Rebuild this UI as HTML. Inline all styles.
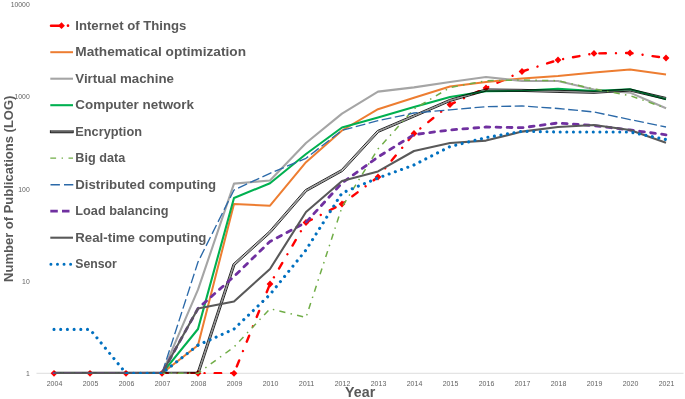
<!DOCTYPE html>
<html><head><meta charset="utf-8"><title>Chart</title>
<style>
html,body{margin:0;padding:0;background:#fff}
svg{display:block}
text{font-family:"Liberation Sans",sans-serif}
.lg{font-weight:bold;font-size:13.5px;fill:#595959}
.tk{font-size:7.8px;fill:#646464}
.ln{fill:none;stroke-linejoin:round}
</style></head><body>
<svg width="685" height="399" viewBox="0 0 685 399">
<rect width="685" height="399" fill="#fff"/>
<defs><clipPath id="cp"><rect x="0" y="0" width="685" height="374"/></clipPath></defs>
<line x1="36.5" y1="373.3" x2="683.5" y2="373.3" stroke="#d9d9d9" stroke-width="0.9"/>

<polyline class="ln" clip-path="url(#cp)" points="54.0,373.3 90.0,373.3 126.0,373.3 162.0,373.3 198.0,373.3 234.0,373.3 270.0,284.0 306.0,222.5 342.0,204.0 378.0,177.0 414.0,133.5 450.0,104.6 486.0,88.0 522.0,71.5 558.0,60.0 594.0,53.4 630.0,53.0 666.0,58.0" stroke="#ff0000" stroke-width="2.4" stroke-linecap="round" stroke-dasharray="6.5 10.1 0.01 10.09" stroke-dashoffset="26.25"/>
<path d="M50.6 373.3L54.0 369.9L57.4 373.3L54.0 376.7Z" fill="#ff0000"/>
<path d="M86.6 373.3L90.0 369.9L93.4 373.3L90.0 376.7Z" fill="#ff0000"/>
<path d="M122.6 373.3L126.0 369.9L129.4 373.3L126.0 376.7Z" fill="#ff0000"/>
<path d="M158.6 373.3L162.0 369.9L165.4 373.3L162.0 376.7Z" fill="#ff0000"/>
<path d="M194.6 373.3L198.0 369.9L201.4 373.3L198.0 376.7Z" fill="#ff0000"/>
<path d="M230.6 373.3L234.0 369.9L237.4 373.3L234.0 376.7Z" fill="#ff0000"/>
<path d="M266.6 284.0L270.0 280.6L273.4 284.0L270.0 287.4Z" fill="#ff0000"/>
<path d="M302.6 222.5L306.0 219.1L309.4 222.5L306.0 225.9Z" fill="#ff0000"/>
<path d="M338.6 204.0L342.0 200.6L345.4 204.0L342.0 207.4Z" fill="#ff0000"/>
<path d="M374.6 177.0L378.0 173.6L381.4 177.0L378.0 180.4Z" fill="#ff0000"/>
<path d="M410.6 133.5L414.0 130.1L417.4 133.5L414.0 136.9Z" fill="#ff0000"/>
<path d="M446.6 104.6L450.0 101.2L453.4 104.6L450.0 108.0Z" fill="#ff0000"/>
<path d="M482.6 88.0L486.0 84.6L489.4 88.0L486.0 91.4Z" fill="#ff0000"/>
<path d="M518.6 71.5L522.0 68.1L525.4 71.5L522.0 74.9Z" fill="#ff0000"/>
<path d="M554.6 60.0L558.0 56.6L561.4 60.0L558.0 63.4Z" fill="#ff0000"/>
<path d="M590.6 53.4L594.0 50.0L597.4 53.4L594.0 56.8Z" fill="#ff0000"/>
<path d="M626.6 53.0L630.0 49.6L633.4 53.0L630.0 56.4Z" fill="#ff0000"/>
<path d="M662.6 58.0L666.0 54.6L669.4 58.0L666.0 61.4Z" fill="#ff0000"/>
<polyline class="ln" clip-path="url(#cp)" points="54.0,373.3 90.0,373.3 126.0,373.3 162.0,373.3 198.0,345.2 234.0,204.0 270.0,205.7 306.0,162.2 342.0,130.5 378.0,109.2 414.0,97.8 450.0,86.5 486.0,82.0 522.0,78.5 558.0,76.0 594.0,72.4 630.0,69.4 666.0,74.5" stroke="#ed7d31" stroke-width="2.0"/>
<polyline class="ln" clip-path="url(#cp)" points="54.0,373.3 90.0,373.3 126.0,373.3 162.0,373.3 198.0,289.7 234.0,183.6 270.0,180.5 306.0,143.0 342.0,113.6 378.0,91.6 414.0,87.4 450.0,82.0 486.0,77.0 522.0,81.0 558.0,81.0 594.0,89.6 630.0,92.6 666.0,108.2" stroke="#a5a5a5" stroke-width="2.1"/>
<polyline class="ln" clip-path="url(#cp)" points="54.0,373.3 90.0,373.3 126.0,373.3 162.0,373.3 198.0,329.0 234.0,198.0 270.0,183.2 306.0,154.0 342.0,127.5 378.0,117.6 414.0,106.9 450.0,97.0 486.0,91.2 522.0,90.8 558.0,88.9 594.0,91.0 630.0,89.3 666.0,99.3" stroke="#00b050" stroke-width="2.1"/>
<polyline class="ln" clip-path="url(#cp)" points="54.00,372.25 90.00,372.25 126.00,372.25 162.00,372.25 197.24,372.25 233.09,263.91 269.25,231.26 305.33,189.67 341.34,169.66 377.38,130.52 413.58,115.04 449.64,99.41 485.86,88.95 522.02,89.35 558.03,90.35 593.98,91.25 630.09,88.94 666.24,97.48" stroke="#000" stroke-width="0.85" stroke-linejoin="miter"/>
<polyline class="ln" clip-path="url(#cp)" points="54.00,373.30 90.00,373.30 126.00,373.30 162.00,373.30 198.00,373.30 234.00,264.50 270.00,232.00 306.00,190.50 342.00,170.50 378.00,131.40 414.00,116.00 450.00,100.40 486.00,90.00 522.00,90.40 558.00,91.40 594.00,92.30 630.00,90.00 666.00,98.50" stroke="#000" stroke-width="0.45" stroke-linejoin="miter"/>
<polyline class="ln" clip-path="url(#cp)" points="54.00,374.35 90.00,374.35 126.00,374.35 162.00,374.35 198.76,374.35 234.91,265.09 270.75,232.74 306.67,191.33 342.66,171.34 378.62,132.28 414.42,116.96 450.36,101.39 486.14,91.05 521.98,91.45 557.97,92.45 594.02,93.35 629.91,91.06 665.76,99.52" stroke="#000" stroke-width="0.85" stroke-linejoin="miter"/>
<polyline class="ln" clip-path="url(#cp)" points="54.0,373.3 90.0,373.3 126.0,373.3 162.0,373.3 198.0,373.3 234.0,347.0 270.0,308.7 306.0,317.5 342.0,207.0 378.0,149.0 414.0,109.0 450.0,87.5 486.0,80.7 522.0,80.0 558.0,80.7 594.0,89.0 630.0,95.6 666.0,108.2" stroke="#70ad47" stroke-width="1.5" stroke-dasharray="6.2 5.25 1.5 5.25" stroke-dashoffset="4.0"/>
<polyline class="ln" clip-path="url(#cp)" points="54.0,373.3 90.0,373.3 126.0,373.3 162.0,373.3 198.0,262.0 234.0,190.0 270.0,173.3 306.0,158.3 342.0,130.3 378.0,120.7 414.0,113.0 450.0,109.8 486.0,106.7 522.0,106.0 558.0,108.5 594.0,112.0 630.0,119.6 666.0,127.0" stroke="#2b69a8" stroke-width="1.35" stroke-dasharray="9.9 3.5" stroke-dashoffset="11.6"/>
<polyline class="ln" clip-path="url(#cp)" points="54.0,373.3 90.0,373.3 126.0,373.3 162.0,373.3 198.0,308.5 234.0,276.5 270.0,241.5 306.0,222.3 342.0,183.0 378.0,157.0 414.0,134.6 450.0,130.0 486.0,127.0 522.0,127.7 558.0,123.0 594.0,125.6 630.0,130.0 666.0,134.8" stroke="#7030a0" stroke-width="2.8" stroke-linecap="round" stroke-dasharray="4.8 6.3"/>
<polyline class="ln" clip-path="url(#cp)" points="54.0,373.3 90.0,373.3 126.0,373.3 162.0,373.3 198.0,308.5 234.0,301.5 270.0,269.0 306.0,212.0 342.0,181.0 378.0,171.4 414.0,151.0 450.0,143.0 486.0,140.6 522.0,131.6 558.0,127.0 594.0,125.0 630.0,130.0 666.0,142.7" stroke="#595959" stroke-width="2.1"/>
<polyline class="ln" clip-path="url(#cp)" points="54.0,329.4 90.0,329.4 126.0,373.3 162.0,373.3 198.0,345.2" stroke="#0070c0" stroke-width="3.1" stroke-linecap="round" stroke-dasharray="0.01 6.69" stroke-dashoffset="0"/>
<polyline class="ln" clip-path="url(#cp)" points="198.0,345.2 234.0,329.0 270.0,294.5 306.0,250.0 342.0,193.0 378.0,178.0 414.0,165.0 450.0,146.6 486.0,137.6 522.0,131.3 558.0,132.0 594.0,132.0 630.0,132.0 666.0,139.5" stroke="#0070c0" stroke-width="3.1" stroke-linecap="round" stroke-dasharray="0.01 6.61" stroke-dashoffset="0"/>
<text class="lg" x="75.3" y="29.9" textLength="111.1" lengthAdjust="spacingAndGlyphs">Internet of Things</text>
<text class="lg" x="75.3" y="56.4" textLength="170.7" lengthAdjust="spacingAndGlyphs">Mathematical optimization</text>
<text class="lg" x="75.3" y="82.9" textLength="98.6" lengthAdjust="spacingAndGlyphs">Virtual machine</text>
<text class="lg" x="75.3" y="109.4" textLength="118.7" lengthAdjust="spacingAndGlyphs">Computer network</text>
<text class="lg" x="75.3" y="135.9" textLength="66.7" lengthAdjust="spacingAndGlyphs">Encryption</text>
<text class="lg" x="75.3" y="162.4" textLength="49.9" lengthAdjust="spacingAndGlyphs">Big data</text>
<text class="lg" x="75.3" y="188.9" textLength="140.9" lengthAdjust="spacingAndGlyphs">Distributed computing</text>
<text class="lg" x="75.3" y="215.4" textLength="93.3" lengthAdjust="spacingAndGlyphs">Load balancing</text>
<text class="lg" x="75.3" y="241.9" textLength="131.1" lengthAdjust="spacingAndGlyphs">Real-time computing</text>
<text class="lg" x="75.3" y="268.4" textLength="41.6" lengthAdjust="spacingAndGlyphs">Sensor</text>
<line x1="51" y1="25.7" x2="62" y2="25.7" stroke="#ff0000" stroke-width="2.5" stroke-linecap="round"/><path d="M58.1 25.7L61.5 22.3L64.9 25.7L61.5 29.1Z" fill="#ff0000"/><circle cx="68" cy="25.7" r="1.35" fill="#ff0000"/>
<line x1="50.3" y1="52.2" x2="73" y2="52.2" stroke="#ed7d31" stroke-width="2.0"/>
<line x1="50.3" y1="78.7" x2="73" y2="78.7" stroke="#a5a5a5" stroke-width="2.1"/>
<line x1="50.3" y1="105.2" x2="73" y2="105.2" stroke="#00b050" stroke-width="2.1"/>
<rect x="49.9" y="130.25" width="23.8" height="2.9" fill="#1a1a1a"/><rect x="50.7" y="130.25" width="22.2" height="1.5" fill="#8c8c8c"/><rect x="50.7" y="131.75" width="22.2" height="1.4" fill="#3c3c3c"/>
<line x1="50.3" y1="158.2" x2="73" y2="158.2" stroke="#70ad47" stroke-width="1.3" stroke-dasharray="5.8 5.5 1.4 5.5 6 0"/>
<line x1="50.5" y1="184.7" x2="73.3" y2="184.7" stroke="#2b69a8" stroke-width="1.35" stroke-dasharray="9.4 4.1"/>
<line x1="50.3" y1="211.2" x2="69.5" y2="211.2" stroke="#7030a0" stroke-width="2.7" stroke-dasharray="7.5 4.2"/>
<line x1="50.3" y1="237.7" x2="73" y2="237.7" stroke="#595959" stroke-width="2.1"/>
<line x1="50.9" y1="264.2" x2="73" y2="264.2" stroke="#0070c0" stroke-width="3.0" stroke-linecap="round" stroke-dasharray="0.01 6.56"/>
<text class="tk" x="46.7" y="385.8" textLength="15.6" lengthAdjust="spacingAndGlyphs">2004</text>
<text class="tk" x="82.7" y="385.8" textLength="15.6" lengthAdjust="spacingAndGlyphs">2005</text>
<text class="tk" x="118.7" y="385.8" textLength="15.6" lengthAdjust="spacingAndGlyphs">2006</text>
<text class="tk" x="154.7" y="385.8" textLength="15.6" lengthAdjust="spacingAndGlyphs">2007</text>
<text class="tk" x="190.7" y="385.8" textLength="15.6" lengthAdjust="spacingAndGlyphs">2008</text>
<text class="tk" x="226.7" y="385.8" textLength="15.6" lengthAdjust="spacingAndGlyphs">2009</text>
<text class="tk" x="262.7" y="385.8" textLength="15.6" lengthAdjust="spacingAndGlyphs">2010</text>
<text class="tk" x="298.7" y="385.8" textLength="15.6" lengthAdjust="spacingAndGlyphs">2011</text>
<text class="tk" x="334.7" y="385.8" textLength="15.6" lengthAdjust="spacingAndGlyphs">2012</text>
<text class="tk" x="370.7" y="385.8" textLength="15.6" lengthAdjust="spacingAndGlyphs">2013</text>
<text class="tk" x="406.7" y="385.8" textLength="15.6" lengthAdjust="spacingAndGlyphs">2014</text>
<text class="tk" x="442.7" y="385.8" textLength="15.6" lengthAdjust="spacingAndGlyphs">2015</text>
<text class="tk" x="478.7" y="385.8" textLength="15.6" lengthAdjust="spacingAndGlyphs">2016</text>
<text class="tk" x="514.7" y="385.8" textLength="15.6" lengthAdjust="spacingAndGlyphs">2017</text>
<text class="tk" x="550.7" y="385.8" textLength="15.6" lengthAdjust="spacingAndGlyphs">2018</text>
<text class="tk" x="586.7" y="385.8" textLength="15.6" lengthAdjust="spacingAndGlyphs">2019</text>
<text class="tk" x="622.7" y="385.8" textLength="15.6" lengthAdjust="spacingAndGlyphs">2020</text>
<text class="tk" x="658.7" y="385.8" textLength="15.6" lengthAdjust="spacingAndGlyphs">2021</text>
<text class="tk" x="10.7" y="6.8" textLength="19.0" lengthAdjust="spacingAndGlyphs">10000</text>
<text class="tk" x="14.5" y="99.1" textLength="15.2" lengthAdjust="spacingAndGlyphs">1000</text>
<text class="tk" x="18.3" y="191.5" textLength="11.4" lengthAdjust="spacingAndGlyphs">100</text>
<text class="tk" x="22.1" y="283.8" textLength="7.6" lengthAdjust="spacingAndGlyphs">10</text>
<text class="tk" x="25.9" y="376.1" textLength="3.8" lengthAdjust="spacingAndGlyphs">1</text>
<text x="345.1" y="397" font-weight="bold" font-size="14.2px" fill="#595959" textLength="30.1" lengthAdjust="spacingAndGlyphs">Year</text>
<text transform="translate(12.7,281.9) rotate(-90)" font-weight="bold" font-size="13.4px" fill="#595959" textLength="186.3" lengthAdjust="spacingAndGlyphs">Number of Publications (LOG)</text>
</svg></body></html>
